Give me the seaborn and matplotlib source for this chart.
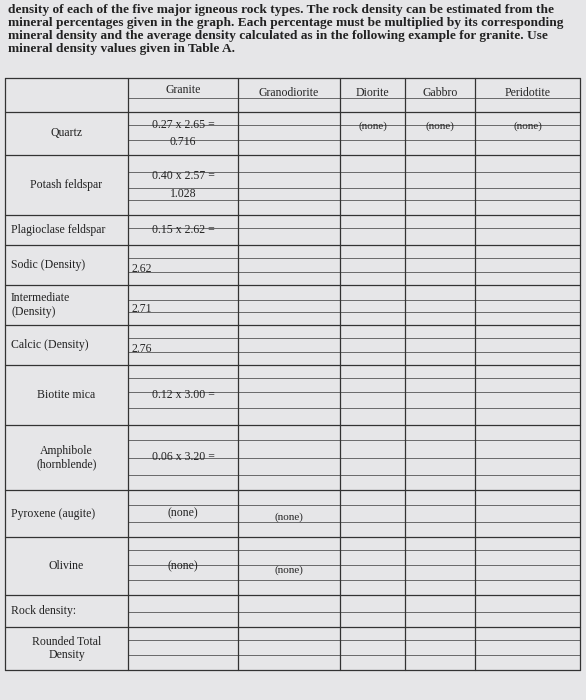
import matplotlib
matplotlib.use("Agg")
import matplotlib.pyplot as plt
import seaborn as sns

sns.set_theme(style="white")
plt.rcParams['font.family'] = ['Liberation Serif', 'DejaVu Serif']

intro_lines = [
    "density of each of the five major igneous rock types. The rock density can be estimated from the",
    "mineral percentages given in the graph. Each percentage must be multiplied by its corresponding",
    "mineral density and the average density calculated as in the following example for granite. Use",
    "mineral density values given in Table A.",
]
columns = ["Granite", "Granodiorite", "Diorite", "Gabbro", "Peridotite"]
row_labels = ["Quartz", "Potash feldspar", "Plagioclase feldspar", "Sodic (Density)",
              "Intermediate\n(Density)", "Calcic (Density)", "Biotite mica",
              "Amphibole\n(hornblende)", "Pyroxene (augite)", "Olivine",
              "Rock density:", "Rounded Total\nDensity"]
granite_cells = ["0.27 x 2.65 =\n0.716", "0.40 x 2.57 =\n1.028", "0.15 x 2.62 =",
                 "", "", "", "0.12 x 3.00 =", "0.06 x 3.20 =", "(none)", "(none)", "", ""]
density_cells = ["", "", "", "2.62", "2.71", "2.76", "", "", "", "", "", ""]
granodiorite_cells = ["", "", "", "", "", "", "", "", "(none)", "(none)", "", ""]
quartz_none = ["(none)", "(none)", "(none)"]

fig = plt.figure(figsize=(5.86, 7.0), dpi=100)
fig.patch.set_facecolor("#e6e6e8")
ax = fig.add_axes([0, 0, 1, 1])
ax.set_xlim(0, 586); ax.set_ylim(700, 0); ax.axis("off")
ax.set_facecolor("#e6e6e8")

for i, t in enumerate(intro_lines):
    ax.text(8, 10 + i * 13, t, fontsize=9.6, color="#222", va="center", weight="bold")

col_x = [5, 128, 238, 340, 405, 475, 580]
row_y = [78, 112, 155, 215, 245, 285, 325, 365, 425, 490, 537, 595, 627, 670]
sub_lines = [98, 125, 140, 172, 188, 200, 228, 258, 272, 300, 312, 338, 352, 378, 392,
             408, 440, 458, 475, 505, 522, 550, 565, 580, 612, 640, 655]
for y in row_y:
    ax.plot([col_x[0], col_x[-1]], [y, y], color="#333", lw=0.9)
for y in sub_lines:
    ax.plot([col_x[1], col_x[-1]], [y, y], color="#555", lw=0.6)
for x in col_x:
    ax.plot([x, x], [row_y[0], row_y[-1]], color="#333", lw=0.9)

col_c = [(col_x[i] + col_x[i + 1]) / 2 for i in range(len(col_x) - 1)]
for j, c in enumerate(columns):
    ax.text(col_c[j + 1], 90 if j < 1 else 93, c, ha="center", va="center", fontsize=8.5)

for i, lab in enumerate(row_labels):
    yc = (row_y[i + 1] + row_y[i + 2]) / 2
    ha = "center" if i in (0, 1, 6, 7, 9, 11) else "left"
    x = col_c[0] if ha == "center" else col_x[0] + 6
    ax.text(x, yc, lab, ha=ha, va="center", fontsize=8.5, color="#222")
    if granite_cells[i]:
        ax.text(col_c[1], yc, granite_cells[i], ha="center", va="center", fontsize=8.5,
                color="#222", linespacing=1.6)
    if density_cells[i]:
        ax.text(col_x[1] + 4, yc + 4, density_cells[i], ha="left", va="center", fontsize=8.5)
    if granodiorite_cells[i]:
        ax.text(col_c[2], yc + 4, granodiorite_cells[i], ha="center", va="center", fontsize=8)

for j, t in enumerate(quartz_none):
    ax.text(col_c[j + 3], 126, t, ha="center", va="center", fontsize=8)

fig.savefig("out.png", dpi=100, facecolor=fig.get_facecolor())
